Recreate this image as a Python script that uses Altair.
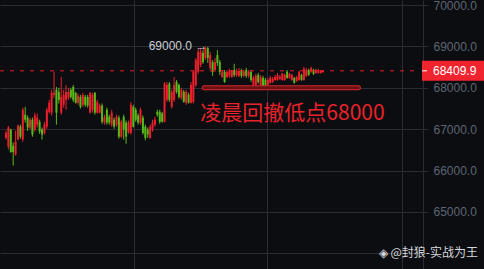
import altair as alt
import pandas as pd

# ---- 1-minute style candles (price in USDT) ----
opens = [66790, 66580, 66990, 66600, 66390, 66750, 67060, 66750, 67350, 67280,
         67040, 67230, 66990, 67110, 67180, 66990, 66910, 67060, 67420, 67400,
         67830, 67950, 67900, 67400, 67590, 67710, 67760, 67950, 68020, 67880,
         67640, 67780, 67590, 67780, 67780, 67400, 67470, 67880, 67400, 67400,
         67570, 67160, 67470, 67300, 67110, 67230, 67110, 67280, 66820, 67300,
         67160, 66940, 66910, 67540, 67470, 67330, 67160, 67280, 67060, 66990,
         66790, 66990, 67110, 67420, 67420, 67380, 67180, 67710, 68100, 67540,
         67710, 68140, 68070, 67760, 67900, 67640, 67830, 67640, 67660, 68070,
         68390, 68550, 68840, 68720, 68960, 68480, 68620, 68430, 68790, 68620,
         68260, 68380, 68260, 68290, 68260, 68430, 68310, 68290, 68410, 68290,
         68430, 68290, 68380, 68070, 68070, 68310, 68070, 68240, 68190, 68070,
         68120, 68140, 68190, 68190, 68220, 68190, 68190, 68390, 68240, 68190,
         68240, 68170, 68190, 68310, 68190, 68290, 68430, 68390, 68430, 68360,
         68360, 68360, 68380]
highs = [66960, 67080, 67010, 66680, 66960, 67110, 67110, 67520, 67540, 67330,
         67280, 67280, 67400, 67380, 67230, 67040, 67180, 67520, 67710, 67950,
         68390, 68020, 68000, 68260, 67950, 68070, 68000, 68000, 68070, 67900,
         67860, 67830, 67880, 67830, 67830, 67900, 67880, 67900, 67710, 67620,
         67620, 67350, 67520, 67350, 67470, 67280, 67350, 67330, 67230, 67350,
         67210, 67210, 67660, 67590, 67520, 67380, 67520, 67330, 67110, 67040,
         67110, 67230, 67300, 67470, 67470, 67420, 68140, 68140, 68140, 67950,
         68260, 68190, 68100, 68000, 67950, 67950, 67880, 68140, 68430, 68720,
         68960, 68960, 68910, 69000, 68990, 68870, 68670, 68720, 68910, 68670,
         68430, 68430, 68430, 68460, 68430, 68580, 68460, 68480, 68460, 68430,
         68480, 68430, 68430, 68290, 68340, 68360, 68310, 68290, 68240, 68240,
         68290, 68260, 68310, 68360, 68310, 68360, 68340, 68430, 68360, 68340,
         68260, 68290, 68410, 68340, 68510, 68480, 68460, 68510, 68460, 68460,
         68460, 68430, 68430]
lows = [66750, 66510, 66430, 66120, 66360, 66730, 66770, 66700, 67160, 66960,
        66990, 66820, 66940, 67040, 66890, 66750, 66870, 67010, 67380, 67330,
        67760, 67110, 67620, 67350, 67520, 67470, 67710, 67740, 67660, 67620,
        67590, 67500, 67540, 67540, 67520, 67380, 67400, 67350, 67380, 67380,
        67130, 67110, 67110, 67110, 67060, 67010, 67060, 66770, 66790, 66750,
        66650, 66890, 66870, 67040, 67180, 67110, 67110, 66870, 66730, 66790,
        66770, 66940, 67060, 67300, 67130, 67160, 67160, 67660, 67660, 67500,
        67660, 67860, 67740, 67710, 67640, 67590, 67620, 67620, 67620, 68020,
        68340, 68500, 68580, 68670, 68600, 68430, 68290, 68380, 68530, 68310,
        68240, 68120, 68240, 68240, 68240, 68260, 68260, 68260, 68240, 68260,
        68240, 68240, 68140, 68050, 68020, 68100, 68020, 67950, 68000, 68050,
        68100, 68120, 68170, 68170, 68190, 68170, 68170, 68220, 68220, 68170,
        68100, 68140, 68170, 68170, 68170, 68260, 68290, 68360, 68310, 68340,
        68340, 68340, 68360]
closes = [66910, 67040, 66450, 66450, 66700, 67090, 66820, 67470, 67230, 67040,
          67230, 66870, 67330, 67280, 66940, 66870, 67110, 67470, 67640, 67880,
          67880, 67400, 67710, 67780, 67830, 67900, 67900, 67780, 67710, 67640,
          67810, 67540, 67830, 67590, 67570, 67880, 67830, 67400, 67660, 67570,
          67180, 67280, 67160, 67160, 67400, 67060, 67300, 66820, 67180, 66990,
          66820, 67160, 67590, 67060, 67230, 67160, 67470, 66910, 66790, 66870,
          67060, 67160, 67230, 67350, 67180, 67180, 68100, 68070, 67710, 67900,
          68070, 67900, 67780, 67950, 67660, 67900, 67640, 68070, 68390, 68670,
          68870, 68870, 68620, 68960, 68720, 68790, 68380, 68620, 68600, 68380,
          68380, 68140, 68380, 68410, 68410, 68310, 68410, 68410, 68290, 68390,
          68290, 68390, 68190, 68240, 68290, 68140, 68260, 68000, 68070, 68190,
          68240, 68220, 68260, 68310, 68260, 68340, 68310, 68240, 68340, 68310,
          68120, 68260, 68390, 68190, 68460, 68430, 68310, 68480, 68340, 68430,
          68430, 68410, 68409.9]

price_ticks = [64000, 65000, 66000, 67000, 68000, 69000, 70000]
time_grid = [53.2, 108.5, 165.0]          # session separators (candle index)
support_level = 68000
support_span = [82.5, 146.7]              # candle index range of the marked zone
support_note = "凌晨回撤低点68000"
note_anchor = [80.9, 67370]               # candle index, price
watermark = "◈ @封狼-实战为王"

BG = "#0c0d10"
GRID = "#2a2d33"
RED = "#ec1f2c"
GREEN = "#58b81b"
AXIS_TXT = "#5e6673"

n = len(closes)
df = pd.DataFrame({"i": list(range(n)), "open": opens, "high": highs,
                   "low": lows, "close": closes})
df["dir"] = ["up" if c >= o else "down" for o, c in zip(opens, closes)]

x_scale = alt.Scale(domain=[-0.41, 171.5], nice=False, zero=False)
y_scale = alt.Scale(domain=[63623, 70121], nice=False, zero=False)
x_axis = alt.Axis(values=time_grid, grid=True, gridColor=GRID, gridWidth=1,
                  labels=False, ticks=False, domain=False, title=None)
y_axis = alt.Axis(orient="right", values=price_ticks, grid=True, gridColor=GRID,
                  gridWidth=1, tickSize=5, tickColor=GRID, domain=True,
                  domainColor=GRID, labelColor=AXIS_TXT, labelFont="Liberation Sans",
                  labelFontSize=12, labelPadding=5, labelFlush=False,
                  labelExpr="datum.value == 64000 ? '' : format(datum.value, '.1f')",
                  title=None)


def X(field):
    return alt.X(field, type="quantitative", scale=x_scale, axis=x_axis)


def Y(field):
    return alt.Y(field, type="quantitative", scale=y_scale, axis=y_axis)


candle_color = alt.Color("dir:N", scale=alt.Scale(domain=["up", "down"], range=[RED, GREEN]),
                         legend=None)

base = alt.Chart(df)
wicks = base.mark_rule(strokeWidth=1).encode(x=X("i"), y=Y("low"), y2="high:Q",
                                             color=candle_color)
bodies = base.mark_bar(size=2).encode(x=X("i"), y=Y("open"), y2="close:Q",
                                      color=candle_color)

# last price line and its tag on the price axis
last = pd.DataFrame({"price": [closes[-1]], "label": [f"{closes[-1]:.1f}"]})
last_line = alt.Chart(last).mark_rule(color=RED, strokeWidth=1, strokeDash=[4, 6]).encode(
    y=Y("price"), x=alt.value(0), x2=alt.value(420))
last_tag = alt.Chart(last).mark_rule(color="#f0242f", strokeWidth=20).encode(
    y=Y("price"), x=alt.value(422), x2=alt.value(484))
last_tick = alt.Chart(last).mark_rule(color="white", strokeWidth=1).encode(
    y=Y("price"), x=alt.value(422), x2=alt.value(427))
last_text = alt.Chart(last).mark_text(align="left", baseline="middle", color="white",
                                      font="Liberation Sans", fontSize=12).encode(
    y=Y("price"), x=alt.value(433), text="label:N")

# session high marker
peak_i = int(max(range(n), key=lambda k: highs[k]))
peak = pd.DataFrame({"i": [peak_i], "price": [highs[peak_i]],
                     "label": [f"{highs[peak_i]:.1f} →"]})
peak_text = alt.Chart(peak).mark_text(align="right", baseline="middle", dx=2,
                                      color="#c9ced6", font="Liberation Sans",
                                      fontSize=12).encode(
    x=X("i"), y=Y("price"), text="label:N")

# overnight pull-back support zone
zone = pd.DataFrame({"a": [support_span[0]], "b": [support_span[1]],
                     "price": [support_level]})
zone_outer = alt.Chart(zone).mark_rule(color="#d8262c", strokeWidth=5,
                                       strokeCap="round").encode(
    x=X("a"), x2="b:Q", y=Y("price"))
zone_inner = alt.Chart(zone).mark_rule(color="#6a1214", strokeWidth=3,
                                       strokeCap="round").encode(
    x=X("a"), x2="b:Q", y=Y("price"))
note = pd.DataFrame({"i": [note_anchor[0]], "price": [note_anchor[1]],
                     "label": [support_note]})
note_text = alt.Chart(note).mark_text(align="left", baseline="middle", color="#e8232b",
                                      font="Noto Sans CJK SC", fontSize=21).encode(
    x=X("i"), y=Y("price"), text="label:N")

mark = pd.DataFrame({"label": [watermark]})
mark_text = alt.Chart(mark).mark_text(align="right", baseline="middle", color="#d4d7dc",
                                      font="Noto Sans CJK SC", fontSize=12).encode(
    x=alt.value(478), y=alt.value(253), text="label:N")

chart = alt.layer(
    wicks, bodies, last_line, zone_outer, zone_inner, note_text, peak_text,
    last_tag, last_tick, last_text, mark_text
).properties(
    width=423, height=269,
    padding={"left": 0, "top": 0, "right": 61, "bottom": 0},
    autosize=alt.AutoSizeParams(type="none"),
).configure(background=BG).configure_view(stroke=None)

chart.save("out.html", embed_options={"renderer": "svg", "actions": False})
